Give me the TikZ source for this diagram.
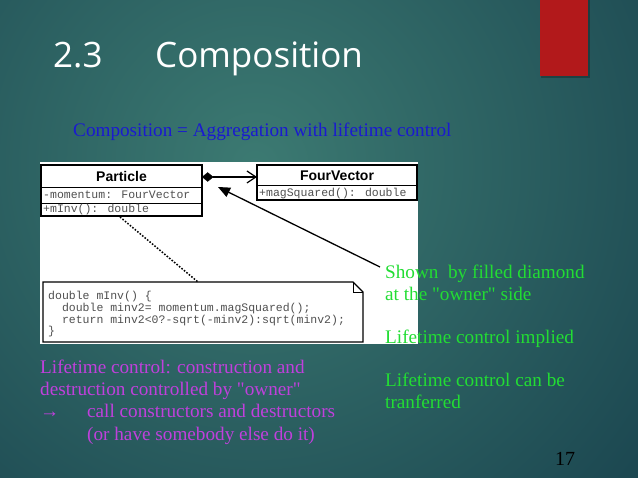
\documentclass[tikz,border=0pt]{standalone}
\usepackage{fontspec}
\setmainfont{Liberation Serif}[Ligatures=TeXOff]
\newfontfamily\titlefont{Open Sans}
\newfontfamily\umlsans{Liberation Sans}
\newfontfamily\umlmono{Liberation Mono}
\usetikzlibrary{arrows.meta,shapes.geometric}
\definecolor{bgdark}{HTML}{17404C}
\definecolor{bglight}{HTML}{3C7A72}
\definecolor{slidered}{HTML}{B2191B}
\definecolor{bluetxt}{HTML}{1A1AD0}
\definecolor{greentxt}{HTML}{22DD33}
\definecolor{magtxt}{HTML}{C040DC}
\definecolor{codegray}{HTML}{505050}
\tikzset{
  umlbox/.style={draw=black, line width=1.2pt, fill=white},
  umlline/.style={draw=black, line width=0.9pt},
  monotxt/.style={font=\umlmono\fontsize{11.5}{12}\selectfont, text=codegray, anchor=base west, inner sep=0pt},
  classname/.style={font=\umlsans\bfseries\fontsize{14}{16}\selectfont, anchor=base, inner sep=0pt},
  slidetxt/.style={font=\fontsize{19.2}{21}\selectfont, anchor=base west, inner sep=0pt},
}
\begin{document}
\begin{tikzpicture}[x=1pt,y=-1pt]
\useasboundingbox (0,0) rectangle (638,478);
% background
\fill[bgdark] (0,0) rectangle (638,478);
\begin{scope}
\clip (0,0) rectangle (638,478);
\shade[inner color=bglight, outer color=bgdark] (255,165) circle (560);
\end{scope}
% red tab
\fill[black,opacity=0.25] (541,0) rectangle (590,78);
\fill[slidered] (540,0) rectangle (588,76);
% title
\node[font=\titlefont\fontsize{35}{40}\selectfont, text=white, anchor=base west, inner sep=0pt] (t1) at (53,68) {2.3};
\node[font=\titlefont\fontsize{35}{40}\selectfont, text=white, anchor=base west, inner sep=0pt] (t2) at (155,68) {Composition};
% subtitle
\node[slidetxt, text=bluetxt] (sub) at (73,137) {Composition = Aggregation with lifetime control};
% white diagram area
\fill[white] (40,162) rectangle (418,344);
% Particle class
\draw[umlbox] (41,165) rectangle (202,216);
\draw[umlline] (41,187) -- (202,187);
\draw[umlline] (41,203) -- (202,203);
\node[classname] (pname) at (121.5,182) {Particle};
\node[monotxt] (pattr) at (43,199) {-momentum: FourVector};
\node[monotxt] (pmeth) at (43,213) {+mInv(): double};
\coordinate (pright) at (202,177);
% FourVector class
\draw[umlbox] (257,165) rectangle (417,200);
\draw[umlline] (257,185) -- (417,185);
\node[classname] (fname) at (337,181) {FourVector};
\node[monotxt] (fmeth) at (259,197) {+magSquared(): double};
\coordinate (fleft) at (257,177);
% composition connector
\node[diamond, fill=black, draw=black, inner sep=0pt, minimum width=11pt, minimum height=9pt, anchor=west] (dia) at (pright) {};
\draw[line width=1.2pt, -{Straight Barb[length=9pt,width=12pt,line width=1.2pt]}] (dia.east) -- (fleft);
% note
\coordinate (ntl) at (43,282);
\draw[umlbox, line join=miter] (43,282) -- (353,282) -- (363,292) -- (363,342) -- (43,342) -- cycle;
\draw[line width=0.8pt] (353,282) -- (353,292) -- (363,292);
\node[monotxt] (c1) at (48,300) {double mInv() \{};
\node[monotxt] (c2) at (48,312) {\ \ double minv2= momentum.magSquared();};
\node[monotxt] (c3) at (48,324) {\ \ return minv2<0?-sqrt(-minv2):sqrt(minv2);};
\node[monotxt] (c4) at (48,335) {\}};
\coordinate (dotA) at (120,217);
\coordinate (dotB) at (198,282);
\draw[line width=1.5pt, dash pattern=on 1.6pt off 1.6pt] (dotA) -- (dotB);
% pointer arrow
\coordinate (arrS) at (380,267);
\coordinate (arrE) at (218,187);
\draw[line width=1.3pt, -{Triangle[length=12pt,width=10pt]}] (arrS) -- (arrE);
% green text
\node[slidetxt, text=greentxt] (g1) at (385,279) {Shown\ \ by filled diamond};
\node[slidetxt, text=greentxt] (g2) at (385,301) {at the "owner" side};
\node[slidetxt, text=greentxt] (g3) at (385,344) {Lifetime control implied};
\node[slidetxt, text=greentxt] (g4) at (385,387) {Lifetime control can be};
\node[slidetxt, text=greentxt] (g5) at (385,409) {tranferred};
% magenta text
\node[slidetxt, text=magtxt] (m1) at (40,374) {Lifetime control: construction and};
\node[slidetxt, text=magtxt] (m2) at (40,396) {destruction controlled by "owner"};
\node[slidetxt, text=magtxt] (m3a) at (40,418) {→};
\node[slidetxt, text=magtxt] (m3) at (87,418) {call constructors and destructors};
\node[slidetxt, text=magtxt] (m4) at (87,441) {(or have somebody else do it)};
% page number
\node[font=\fontsize{20}{22}\selectfont, text=black, anchor=base west, inner sep=0pt] (pg) at (555,466) {17};
\end{tikzpicture}
\end{document}
